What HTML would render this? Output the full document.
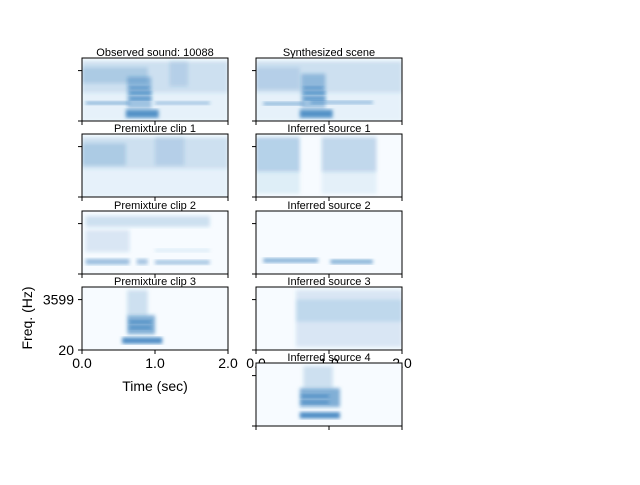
<!DOCTYPE html>
<html><head><meta charset="utf-8"><style>
body{margin:0;background:#fff}
svg text{font-family:"Liberation Sans",sans-serif}
</style></head><body>
<svg id="fig" width="640" height="480" xmlns="http://www.w3.org/2000/svg">
<defs><filter id="blur" x="-20%" y="-20%" width="140%" height="140%"><feGaussianBlur stdDeviation="1.8"/></filter>
<clipPath id="c0"><rect x="82" y="58" width="146" height="63"/></clipPath></defs>
</svg>
<script>
// time (sec) and freq fraction (0 bottom..1 top) components: [t0,t1,f0,f1,intensity]
const panelTitles=["Observed sound: 10088","Synthesized scene","Premixture clip 1","Inferred source 1","Premixture clip 2","Inferred source 2","Premixture clip 3","Inferred source 3","Inferred source 4"];
const xTicks=[0,1,2];
const xTickLabels=["0.0","1.0","2.0"];
const yTicks=[0.2,1];
const yTickLabels=["3599","20"];
const obsComp=[[0,2,0.45,0.95,0.2],[0,0.9,0.6,0.85,0.2],[0,2,0,0.45,0.07],[0.05,0.65,0.26,0.31,0.5],[1.0,1.75,0.26,0.31,0.4],[0.62,0.95,0.2,0.7,0.35],[0.65,0.95,0.33,0.38,0.6],[0.65,0.95,0.42,0.47,0.6],[0.65,0.92,0.5,0.55,0.45],[0.6,1.05,0.05,0.18,0.75],[1.2,1.45,0.55,0.95,0.15]];
const synComp=[[0,2,0.45,0.95,0.2],[0,0.6,0.5,0.85,0.15],[0,2,0,0.45,0.07],[0.1,0.65,0.25,0.3,0.5],[0.75,1.6,0.27,0.32,0.45],[0.62,0.95,0.2,0.75,0.35],[0.65,0.95,0.33,0.38,0.6],[0.65,0.95,0.42,0.47,0.6],[0.65,0.92,0.5,0.55,0.45],[0.6,1.05,0.05,0.18,0.75]];
const pre1Comp=[[0,2,0.45,0.95,0.2],[0,0.6,0.5,0.85,0.2],[0,2,0,0.45,0.07],[1.0,1.4,0.5,0.95,0.15]];
const inf1Comp=[[0,0.6,0.4,0.95,0.3],[0,0.6,0.05,0.4,0.1],[0.9,1.65,0.4,0.95,0.25],[0.9,1.65,0.05,0.4,0.08]];
const pre2Comp=[[0.05,1.75,0.75,0.92,0.2],[0.05,0.65,0.35,0.7,0.15],[0.05,0.65,0.15,0.24,0.45],[0.75,0.9,0.15,0.24,0.4],[1.0,1.75,0.15,0.22,0.4],[1.0,1.75,0.35,0.4,0.12]];
const inf2Comp=[[0.1,0.85,0.18,0.25,0.55],[1.02,1.6,0.16,0.23,0.55]];
const pre3Comp=[[0.55,1.1,0.1,0.2,0.8],[0.62,1.0,0.25,0.55,0.55],[0.65,0.95,0.33,0.38,0.5],[0.65,0.95,0.42,0.47,0.5],[0.62,0.9,0.55,0.95,0.2]];
const inf3Comp=[[0.55,2,0.05,0.95,0.15],[0.55,2,0.45,0.8,0.12]];
const inf4Comp=[[0.6,1.15,0.12,0.22,0.8],[0.6,1.15,0.3,0.6,0.55],[0.62,1.0,0.35,0.4,0.5],[0.62,1.0,0.45,0.5,0.5],[0.65,1.05,0.6,0.95,0.2]];
const panelComps=[obsComp,synComp,pre1Comp,inf1Comp,pre2Comp,inf2Comp,pre3Comp,inf3Comp,inf4Comp];
const NS="http://www.w3.org/2000/svg";
const svg=document.getElementById('fig');
const colX=[82,256], rowY=[58,134,211,287,363], W=146, H=63;
const pos=[[0,0],[1,0],[0,1],[1,1],[0,2],[1,2],[0,3],[1,3],[1,4]];
function mk(tag,attrs,parent){const e=document.createElementNS(NS,tag);for(const k in attrs)e.setAttribute(k,attrs[k]);(parent||svg).appendChild(e);return e;}
const defs=svg.querySelector('defs');
pos.forEach((p,i)=>{
  const x0=colX[p[0]], y0=rowY[p[1]];
  const sx=t=>x0+t/2*W, sy=f=>y0+H-f*H;
  const cp=mk('clipPath',{id:'cp'+i},defs);mk('rect',{x:x0,y:y0,width:W,height:H},cp);
  const bg=mk('rect',{x:x0,y:y0,width:W,height:H,fill:'#f7fbff'});
  
  
  const g=mk('g',{'clip-path':'url(#cp'+i+')'});
  panelComps[i].forEach(c=>{
    const r=mk('rect',{x:sx(c[0]),y:sy(c[3]),width:sx(c[1])-sx(c[0]),height:sy(c[2])-sy(c[3]),fill:'#2171b5','fill-opacity':c[4],filter:'url(#blur)'},g);
    
    
  });
  const fr=mk('rect',{x:x0,y:y0,width:W,height:H,fill:'none',stroke:'#000','stroke-width':1});
  
  
  xTicks.forEach((t,j)=>{
    const l=mk('line',{x1:sx(t),x2:sx(t),y1:y0+H,y2:y0+H+4,stroke:'#000'});
    
    
    if(i===6||i===7){const tx=mk('text',{x:sx(t),y:y0+H+18,'font-size':14,'text-anchor':'middle'});tx.textContent=xTickLabels[j];
      
      }
  });
  yTicks.forEach((f,j)=>{
    const yy=y0+f*H;
    const l=mk('line',{x1:x0-4,x2:x0,y1:yy,y2:yy,stroke:'#000'});
    
    
    if(i===6){const tx=mk('text',{x:x0-8,y:yy+5,'font-size':14,'text-anchor':'end'});tx.textContent=yTickLabels[j];
      
      }
  });
  const tt=mk('text',{x:x0+W/2,y:y0-2,'font-size':11,'text-anchor':'middle'});
  tt.textContent=panelTitles[i];
  
  
});
const xl=mk('text',{x:155,y:391,'font-size':14,'text-anchor':'middle'});xl.textContent='Time (sec)';


const yl=mk('text',{x:32,y:318,'font-size':14,'text-anchor':'middle',transform:'rotate(-90 32 318)'});yl.textContent='Freq. (Hz)';


</script>
</body></html>
